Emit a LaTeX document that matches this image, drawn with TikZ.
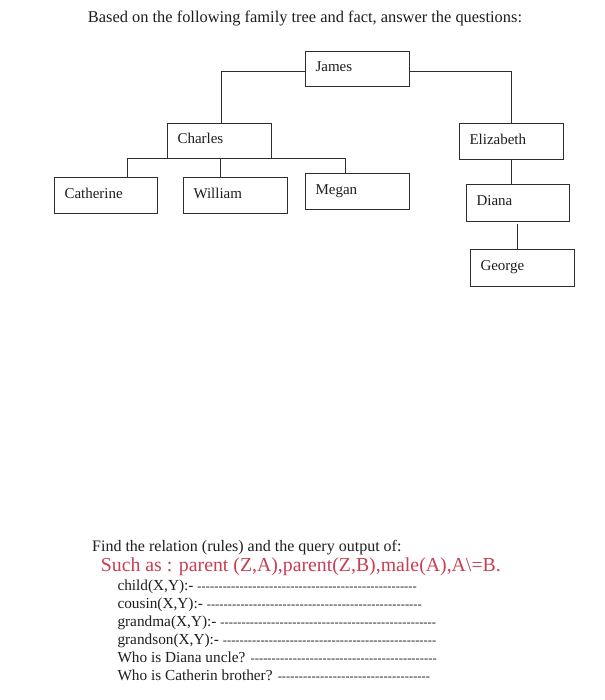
\documentclass[tikz,border=0pt]{standalone}
\usepackage{fontspec}
\setmainfont{Liberation Serif}
\definecolor{ink}{RGB}{30,30,30}
\definecolor{edge}{RGB}{45,45,45}
\definecolor{suchred}{RGB}{200,62,84}
\newcommand{\dfill}{\xleaders\hbox{\fontsize{12.5}{12.5}\selectfont -}\hfill}
\begin{document}
\begin{tikzpicture}[x=1pt,y=-1pt,
  pbox/.style={draw=edge, line width=0.95pt, text=ink, align=left,
    inner xsep=10.5pt, inner ysep=0pt, text width=83pt,
    text height=8.5pt, text depth=2pt, minimum height=36pt,
    font=\fontsize{15}{17}\selectfont},
  conn/.style={draw=edge, line width=0.95pt},
  qline/.style={anchor=base west, inner sep=0pt, text=ink,
    font=\fontsize{15.3}{17}\selectfont}]
\useasboundingbox (0,0) rectangle (604,700);
\fill[white] (0,0) rectangle (604,700);

\node[anchor=base, inner sep=0pt, text=ink, font=\fontsize{16.4}{18}\selectfont]
  (title) at (305,22.7) {Based on the following family tree and fact, answer the questions:};

\node[pbox, minimum height=35pt] (james) at (357,68.5) {James};
\node[pbox, minimum height=35pt] (charles) at (219,140.5) {Charles};
\node[pbox] (elizabeth) at (511,141) {Elizabeth};
\node[pbox, text width=82pt] (catherine) at (105.5,195) {Catherine};
\node[pbox] (william) at (235,195) {William};
\node[pbox] (megan) at (357,191) {Megan};
\node[pbox, text width=82pt, minimum height=37pt] (diana) at (517.5,202.5) {Diana};
\node[pbox, minimum height=37pt] (george) at (522,267.5) {George};

\draw[conn] ([yshift=-2.5pt]james.west) -| ([xshift=2pt]charles.north);
\draw[conn] ([yshift=-2.5pt]james.east) -| (elizabeth.north);
\draw[conn] ([xshift=21.5pt]catherine.north) |- ([xshift=-11.3pt]megan.north |- charles.south)
  -- ([xshift=-11.3pt]megan.north);
\draw[conn] ([xshift=1pt]charles.south) -- ([xshift=1pt]charles.south |- william.north);
\draw[conn] (elizabeth.south) -- (elizabeth.south |- diana.north);
\draw[conn] ([yshift=-3pt]diana.south) -- (diana.south |- george.north);

\node[anchor=base west, inner sep=0pt, text=ink, font=\fontsize{16}{18}\selectfont]
  (find) at (92,551.7) {Find the relation (rules) and the query output of:};
\node[anchor=base west, inner sep=0pt, text=suchred, font=\fontsize{19.8}{22}\selectfont]
  (such) at (100.7,571.5) {Such as : parent (Z,A),parent(Z,B),male(A),A\textbackslash=B.};
\node[qline] (q1) at (117.3,590) {\makebox[299.4pt][l]{child(X,Y):- \dfill}};
\node[qline] (q2) at (117.3,608.5) {\makebox[304.4pt][l]{cousin(X,Y):- \dfill}};
\node[qline] (q3) at (117.3,626.5) {\makebox[318.7pt][l]{grandma(X,Y):- \dfill}};
\node[qline] (q4) at (117.3,644.5) {\makebox[318.7pt][l]{grandson(X,Y):- \dfill}};
\node[qline] (q5) at (117.3,662.5) {\makebox[319.4pt][l]{Who is Diana uncle? \dfill}};
\node[qline] (q6) at (117.3,680) {\makebox[312.7pt][l]{Who is Catherin brother? \dfill}};
\end{tikzpicture}
\end{document}
